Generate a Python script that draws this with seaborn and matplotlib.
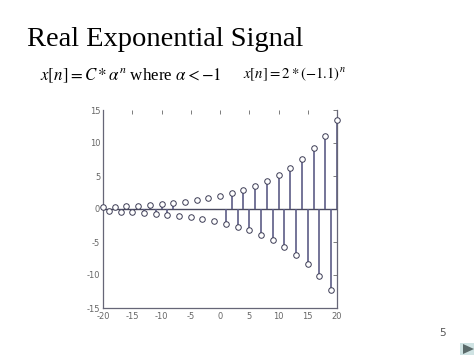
import matplotlib
matplotlib.use("Agg")
import matplotlib.pyplot as plt
import seaborn as sns
import pandas as pd
from matplotlib.patches import Polygon, Rectangle

# ---- data: x[n] = 2*(-1.1)^n, n = -20..20 ----
n_values = list(range(-20, 21))
x_values = [0.30, -0.33, 0.36, -0.40, 0.44, -0.48, 0.53, -0.58, 0.64, -0.70,
            0.77, -0.85, 0.93, -1.03, 1.13, -1.24, 1.37, -1.50, 1.65, -1.82,
            2.00, -2.20, 2.42, -2.66, 2.93, -3.22, 3.54, -3.90, 4.29, -4.72,
            5.19, -5.71, 6.28, -6.90, 7.60, -8.35, 9.19, -10.11, 11.12, -12.23,
            13.45]
# stems that are visible in the picture (none between n=-7 and n=0)
stem_visible = [True] * 13 + [False] * 8 + [True] * 20
x_ticks = [-20, -15, -10, -5, 0, 5, 10, 15, 20]
y_ticks = [-15, -10, -5, 0, 5, 10, 15]

title_text = "Real Exponential Signal"
formula_left = r"$x[n] = C * \alpha^{n}$ where $\alpha < -1$"
formula_right = r"$x[n] = 2*(-1.1)^{n}$"
page_number = "5"

df = pd.DataFrame({"n": n_values, "x": x_values, "stem": stem_visible})

sns.set_style("white")
plt.rcParams["font.family"] = ["DejaVu Sans"]
plt.rcParams["axes.unicode_minus"] = False
plt.rcParams["mathtext.fontset"] = "stix"

fig = plt.figure(figsize=(4.74, 3.55), dpi=100)
fig.patch.set_facecolor("white")

W, H = 474, 355
left, right, top, bottom = 103, 337, 110, 308
ax = fig.add_axes([left / W, 1 - bottom / H, (right - left) / W, (bottom - top) / H])

stem_color = "#5c5c86"
dstem = df[df["stem"]]
ax.vlines(dstem["n"], 0, dstem["x"], color=stem_color, linewidth=1.2, zorder=2)
ax.axhline(0, color="#4a4a60", linewidth=1.0, zorder=1)
sns.scatterplot(data=df, x="n", y="x", ax=ax, marker="o", s=16,
                facecolor="white", edgecolor="#3c3c55", linewidth=0.7,
                zorder=3, legend=False, clip_on=False)

ax.set_xlim(-20, 20)
ax.set_ylim(-15, 15)
ax.set_xticks(x_ticks)
ax.set_yticks(y_ticks)
ax.set_xticklabels([str(v) for v in x_ticks])
ax.set_yticklabels([str(v) for v in y_ticks])
ax.set_xlabel("")
ax.set_ylabel("")
ax.tick_params(axis="both", direction="in", length=3, width=0.6,
               colors="#666666", labelsize=6, pad=2,
               top=True, right=True)
ax.tick_params(axis="x", pad=3)
for side in ["left", "bottom", "right"]:
    ax.spines[side].set_color("#666677")
    ax.spines[side].set_linewidth(0.9)
ax.spines["top"].set_visible(False)
ax.set_facecolor("white")

# slide text
fig.text(27 / W, 1 - 40 / H, title_text, family="Liberation Serif",
         fontsize=20.5, color="black", va="center", ha="left")
fig.text(40 / W, 1 - 76 / H, formula_left, family="Liberation Serif",
         fontsize=12.2, color="black", va="center", ha="left")
fig.text(243 / W, 1 - 74 / H, formula_right, family="Liberation Serif",
         fontsize=10.6, color="black", va="center", ha="left")
fig.text(442 / W, 1 - 333 / H, page_number, fontsize=7.5, color="#555555",
         va="center", ha="center")

# navigation icon in bottom-right corner
fig.patches.append(Rectangle((460 / W, 0), 14 / W, 12 / H,
                             transform=fig.transFigure, facecolor="#cfe3e3",
                             edgecolor="none"))
fig.patches.append(Polygon([[463 / W, 11 / H], [463 / W, 1 / H], [474 / W, 6 / H]],
                           closed=True, transform=fig.transFigure,
                           facecolor="#5a6a6a", edgecolor="none"))

fig.savefig("out.png", dpi=100)
